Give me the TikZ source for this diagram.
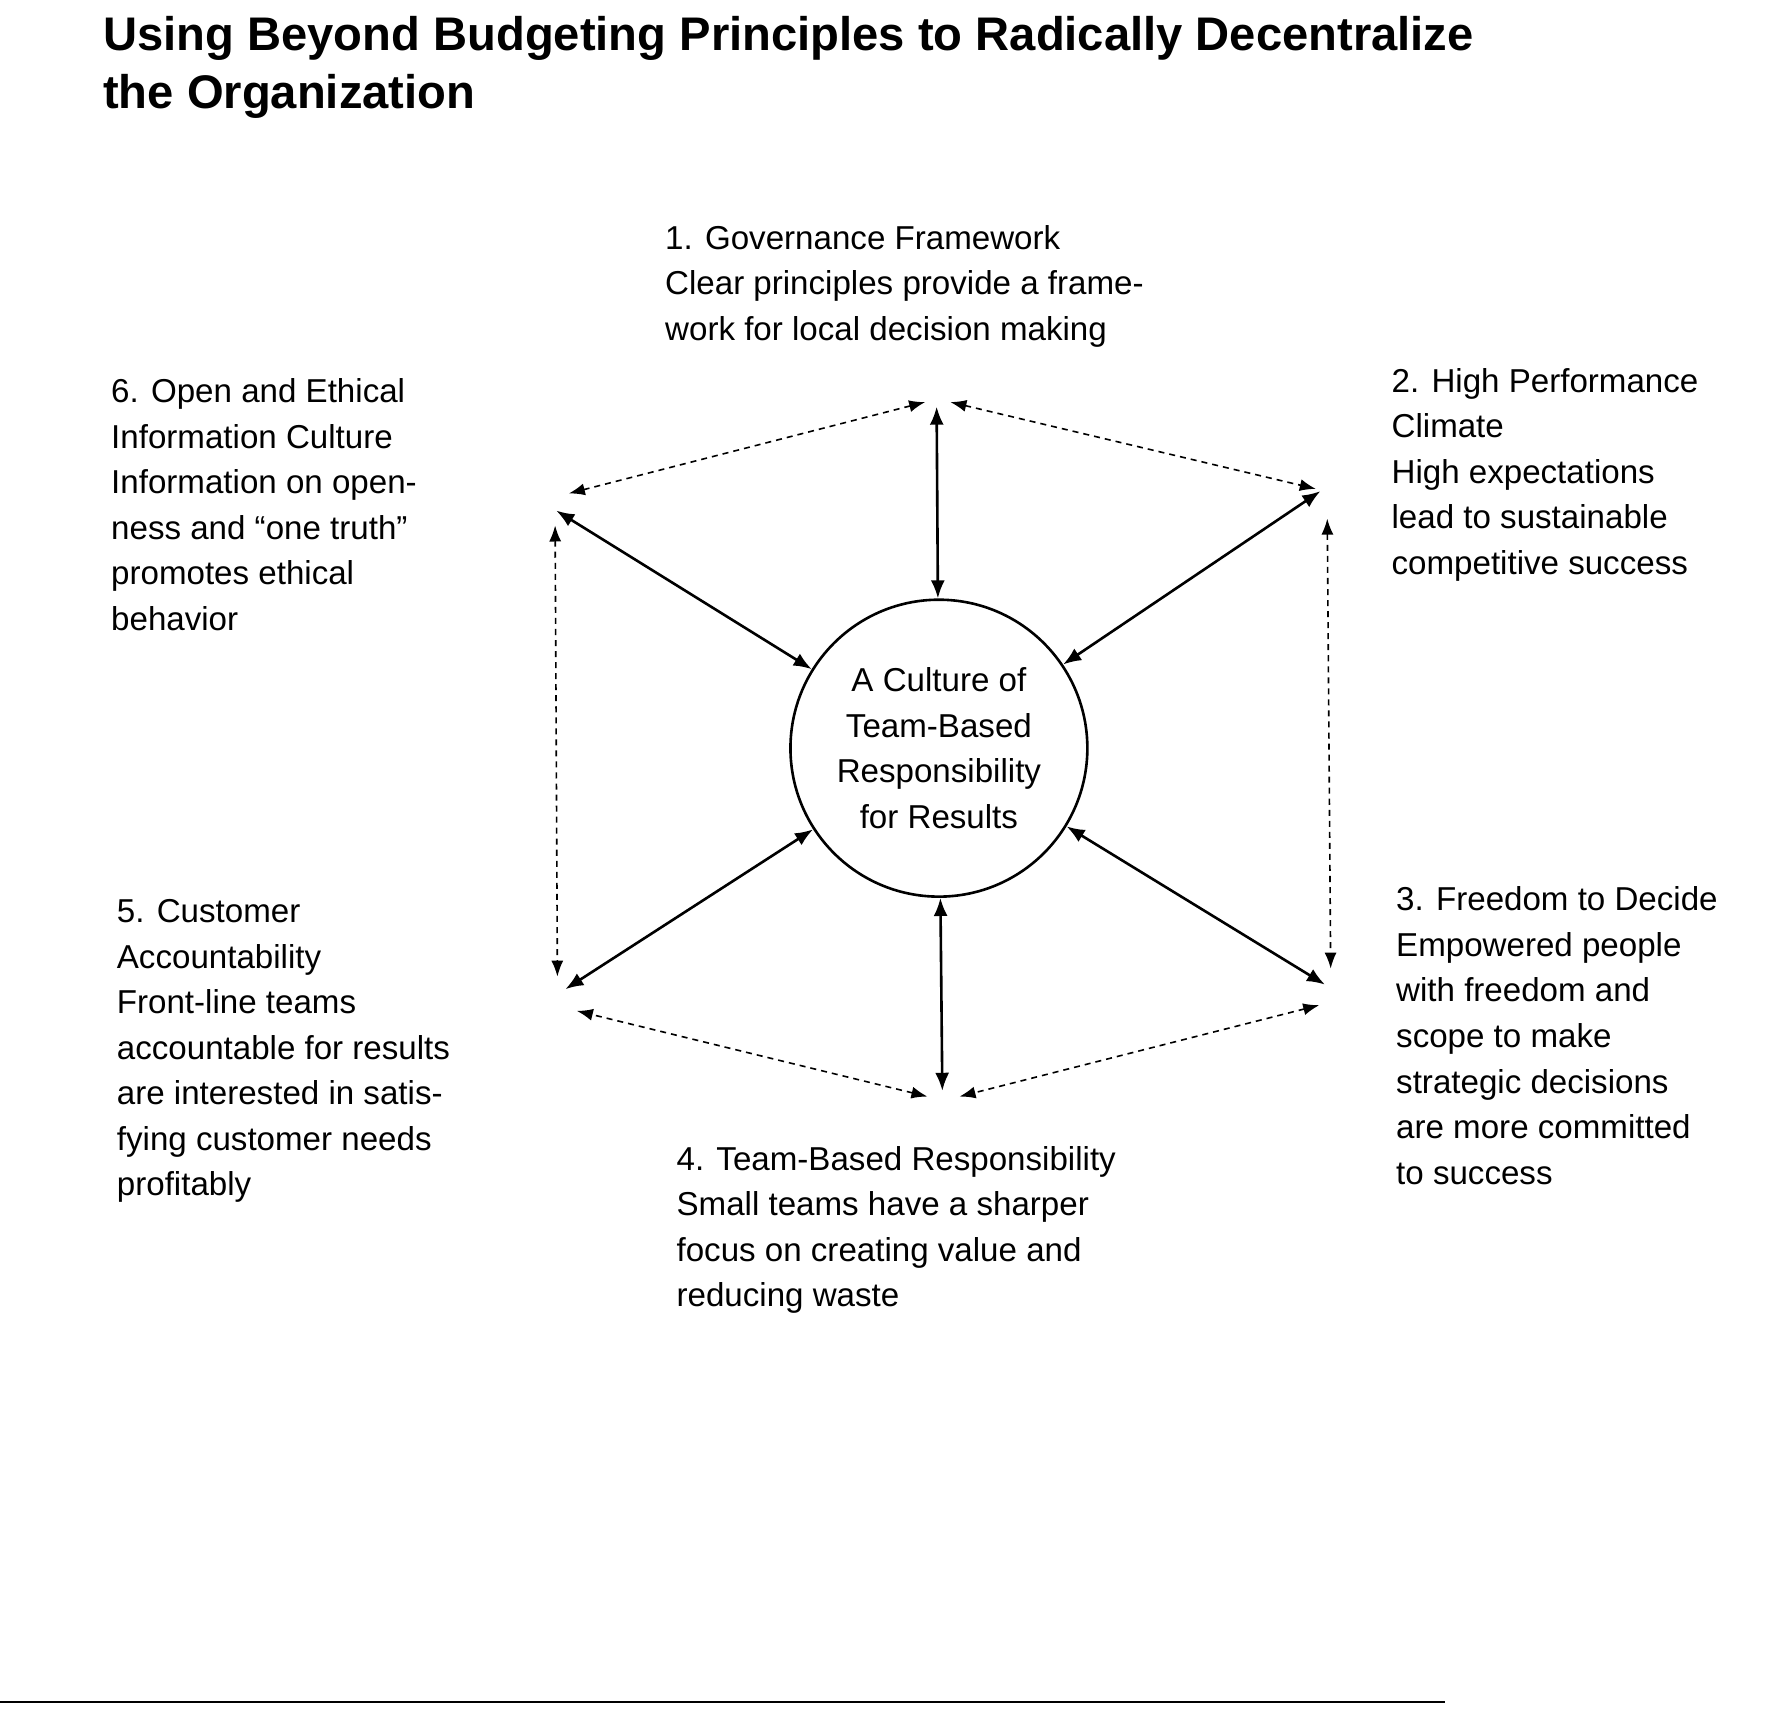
\documentclass[tikz,border=0pt]{standalone}
\usepackage{fontspec}
\setmainfont{Liberation Sans}
\usetikzlibrary{arrows.meta}
\begin{document}
\begin{tikzpicture}[x=0.02cm,y=-0.02cm,
  txt/.style={anchor=north west,align=left,inner sep=0pt,font=\fontsize{16.5}{22.7}\selectfont},
  solid arr/.style={{Latex[length=9pt,width=7pt]}-{Latex[length=9pt,width=7pt]},line width=1.3pt},
  dash arr/.style={{Latex[length=8pt,width=6pt]}-{Latex[length=8pt,width=6pt]},line width=0.8pt,dash pattern=on 3pt off 2.5pt}]
\useasboundingbox[fill=white] (0,0) rectangle (1568,1499);
\node[anchor=north west,align=left,inner sep=0pt,font=\bfseries\fontsize{23.5}{29}\selectfont] (title) at (90,14)
  {Using Beyond Budgeting Principles to Radically Decentralize\\the Organization};
\node[circle,draw,line width=1.3pt,minimum size=260\pgflinewidth,inner sep=0pt,minimum size=5.2cm,align=center,font=\fontsize{16.5}{22.7}\selectfont] (c) at (822,655)
  {A Culture of\\Team-Based\\Responsibility\\for Results};
\coordinate (t) at (820,356);
\coordinate (tr) at (1156,430);
\coordinate (br) at (1160,862);
\coordinate (b) at (825,955);
\coordinate (bl) at (495,866);
\coordinate (tl) at (487,447);
\draw[solid arr] (t) -- (c);
\draw[solid arr] (tr) -- (c);
\draw[solid arr] (br) -- (c);
\draw[solid arr] (b) -- (c);
\draw[solid arr] (bl) -- (c);
\draw[solid arr] (tl) -- (c);
\coordinate (d1a) at (498,432); \coordinate (d1b) at (810,352);
\coordinate (d2a) at (832,352); \coordinate (d2b) at (1152,428);
\coordinate (d3a) at (1162,454); \coordinate (d3b) at (1165,848);
\coordinate (d4a) at (1155,880); \coordinate (d4b) at (840,960);
\coordinate (d5a) at (812,960); \coordinate (d5b) at (505,885);
\coordinate (d6a) at (486,460); \coordinate (d6b) at (488,855);
\draw[dash arr] (d1a) -- (d1b);
\draw[dash arr] (d2a) -- (d2b);
\draw[dash arr] (d3a) -- (d3b);
\draw[dash arr] (d4a) -- (d4b);
\draw[dash arr] (d5a) -- (d5b);
\draw[dash arr] (d6a) -- (d6b);
\node[txt] (p1) at (582,197) {1. Governance Framework\\Clear principles provide a frame-\\work for local decision making};
\node[txt] (p2) at (1218,322) {2. High Performance\\Climate\\High expectations\\lead to sustainable\\competitive success};
\node[txt] (p3) at (1222,776) {3. Freedom to Decide\\Empowered people\\with freedom and\\scope to make\\strategic decisions\\are more committed\\to success};
\node[txt] (p4) at (592,1003) {4. Team-Based Responsibility\\Small teams have a sharper\\focus on creating value and\\reducing waste};
\node[txt] (p5) at (102,787) {5. Customer\\Accountability\\Front-line teams\\accountable for results\\are interested in satis-\\fying customer needs\\profitably};
\node[txt] (p6) at (97,331) {6. Open and Ethical\\Information Culture\\Information on open-\\ness and ``one truth''\\promotes ethical\\behavior};
\coordinate (l1) at (0,1490); \coordinate (l2) at (1265,1490);
\draw[line width=1.2pt] (l1) -- (l2);
\end{tikzpicture}
\end{document}
